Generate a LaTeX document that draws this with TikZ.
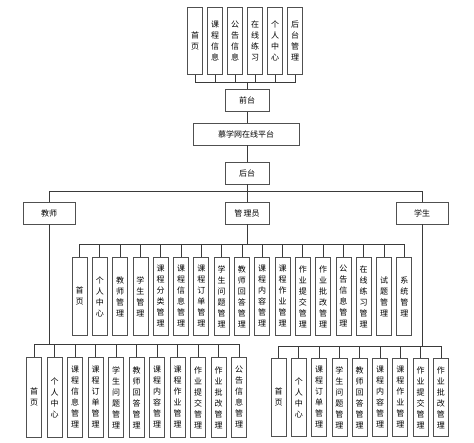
\documentclass[tikz,border=0pt]{standalone}
\usepackage{fontspec}
\newfontfamily\cjk{Noto Sans CJK SC}
\definecolor{boxc}{HTML}{505050}
\definecolor{linec}{HTML}{3A3A3A}
\begin{document}
\begin{tikzpicture}[x=1pt,y=-1pt,line width=0.8pt,
  box/.style={draw=boxc,fill=white,inner sep=0pt,font=\cjk\fontsize{8}{11}\selectfont},
  vbox/.style={box,minimum width=15pt,text width=9pt,align=center,anchor=north},
  hbox/.style={box,minimum height=22pt},
  link/.style={draw=linec,line width=0.8pt}]
\useasboundingbox[fill=white] (0,0) rectangle (474,443);
% top row
\foreach \t [count=\i] in {{首\\页},{课\\程\\信\\息},{公\\告\\信\\息},{在\\线\\练\\习},{个\\人\\中\\心},{后\\台\\管\\理}}
  \node[vbox,minimum height=67pt] (t\i) at ({175+20*\i},7) {\t};
\coordinate (tb) at (247,82);
\foreach \i in {1,...,6} \draw[link] (t\i.south) |- (tb);
\node[hbox,minimum width=44pt] (qt) at (247,100.5) {前台};
\node[hbox,minimum width=106pt] (pt) at (246,134) {慕学网在线平台};
\node[hbox,minimum width=44pt] (ht) at (247,173) {后台};
\draw[link] (tb) -- (qt.north);
\draw[link] (qt.south) -- (qt.south |- pt.north);
\draw[link] (qt.south |- pt.south) -- (ht.north);
% roles
\coordinate (rb) at (247,191);
\node[hbox,minimum width=52pt] (tch) at (49,213) {教师};
\node[hbox,minimum width=44pt] (adm) at (247,213) {管\,理员};
\node[hbox,minimum width=52pt] (stu) at (422,213) {学生};
\draw[link] (ht.south) -- (rb);
\draw[link] (tch.north) |- (rb);
\draw[link] (stu.north) |- (rb);
\draw[link] (rb) -- (adm.north);
% admin children
\coordinate (ab) at (247,244);
\draw[link] (adm.south) -- (ab);
\foreach \t [count=\i] in {{首\\页},{个\\人\\中\\心},{教\\师\\管\\理},{学\\生\\管\\理},{课\\程\\分\\类\\管\\理},{课\\程\\信\\息\\管\\理},{课\\程\\订\\单\\管\\理},{学\\生\\问\\题\\管\\理},{教\\师\\回\\答\\管\\理},{课\\程\\内\\容\\管\\理},{课\\程\\作\\业\\管\\理},{作\\业\\提\\交\\管\\理},{作\\业\\批\\改\\管\\理},{公\\告\\信\\息\\管\\理},{在\\线\\练\\习\\管\\理},{试\\题\\管\\理},{系\\统\\管\\理}}
{
  \node[vbox,minimum height=78pt] (a\i) at ({79.5+20.3*(\i-1)},257) {\t};
  \draw[link] (a\i.north) |- (ab);
}
% teacher children
\coordinate (tbus) at (49,344);
\draw[link] (tch.south) -- (tbus);
\foreach \t [count=\i] in {{首\\页},{个\\人\\中\\心},{课\\程\\信\\息\\管\\理},{课\\程\\订\\单\\管\\理},{学\\生\\问\\题\\管\\理},{教\\师\\回\\答\\管\\理},{课\\程\\内\\容\\管\\理},{课\\程\\作\\业\\管\\理},{作\\业\\提\\交\\管\\理},{作\\业\\批\\改\\管\\理},{公\\告\\信\\息\\管\\理}}
{
  \node[vbox,minimum height=80pt] (c\i) at ({34+20.5*(\i-1)},357) {\t};
  \draw[link] (c\i.north) |- (tbus);
}
% student children
\coordinate (sbus) at (422,346);
\draw[link] (stu.south) -- (sbus);
\foreach \t [count=\i] in {{首\\页},{个\\人\\中\\心},{课\\程\\订\\单\\管\\理},{学\\生\\问\\题\\管\\理},{教\\师\\回\\答\\管\\理},{课\\程\\内\\容\\管\\理},{课\\程\\作\\业\\管\\理},{作\\业\\提\\交\\管\\理},{作\\业\\批\\改\\管\\理}}
{
  \node[vbox,minimum height=78pt] (s\i) at ({278.5+20.3*(\i-1)},358) {\t};
  \draw[link] (s\i.north) |- (sbus);
}
\end{tikzpicture}
\end{document}
